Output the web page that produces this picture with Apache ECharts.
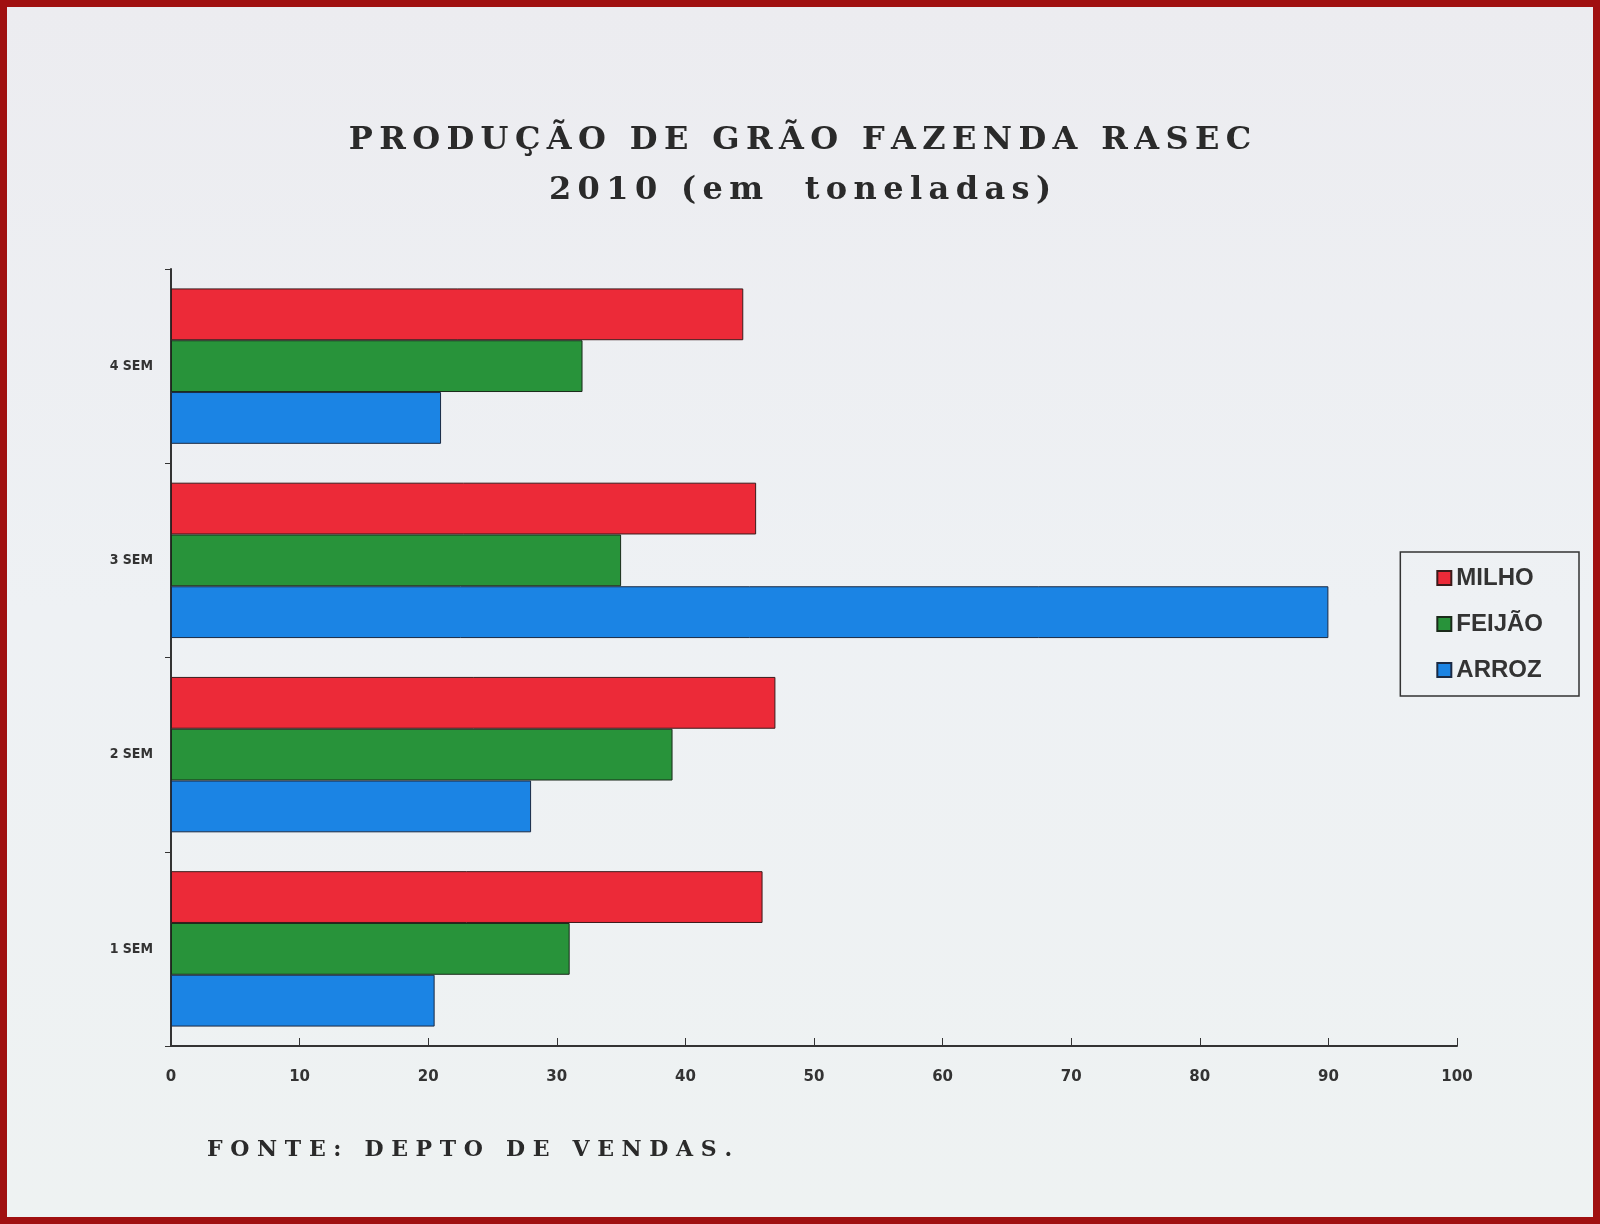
<!DOCTYPE html>
<html>
<head>
<meta charset="utf-8">
<script src="https://cdn.jsdelivr.net/npm/echarts@6/dist/echarts.min.js"></script>
<style>
  html, body { margin: 0; padding: 0; }
  #main { width: 1600px; height: 1224px; box-sizing: border-box; border: 7px solid #a01010;
    background: linear-gradient(180deg, #ececf0 0%, #eef1f4 50%, #eef2f2 100%); }
</style>
</head>
<body>
<div id="main"></div>
<script>
// Data
const categories = ["1 SEM", "2 SEM", "3 SEM", "4 SEM"];
const milho = [46, 47, 45.5, 44.5];
const feijao = [31, 39, 35, 32];
const arroz = [20.5, 28, 90, 21];
const xTicks = [0, 10, 20, 30, 40, 50, 60, 70, 80, 90, 100];

// spread letters like the original's wide title
const spread = (s) => s.split("").join("\u2009");

const chart = echarts.init(document.getElementById("main"));

const barBase = {
  type: "bar",
  barGap: "0%",
  barCategoryGap: "20%",
};

const option = {
  animation: false,
  title: {
    text: spread("PRODUÇÃO DE GRÃO FAZENDA RASEC") + "\n" + spread("2010 (em  toneladas)"),
    left: "center",
    top: 104,
    textStyle: {
      fontFamily: "DejaVu Serif",
      fontWeight: "bold",
      fontSize: 32,
      lineHeight: 50,
      color: "#2a2a2a",
    },
  },
  graphic: [{
    type: "text",
    left: 200,
    top: 1132,
    style: {
      text: "F O N T E :   D E P T O   D E   V E N D A S .",
      font: "bold 22px 'DejaVu Serif'",
      fill: "#2a2a2a",
    },
  }],
  legend: {
    orient: "vertical",
    right: 14,
    top: 545,
    padding: [14, 36, 14, 36],
    itemGap: 22,
    itemWidth: 14,
    itemHeight: 14,
    icon: "rect",
    borderColor: "#333",
    borderWidth: 1.5,
    data: ["MILHO", "FEIJÃO", "ARROZ"],
    textStyle: { fontFamily: "Liberation Sans", fontWeight: "bold", fontSize: 24, color: "#333" },
  },
  grid: { left: 164, right: 136, top: 262, bottom: 171 },
  xAxis: {
    type: "value",
    min: 0,
    max: 100,
    interval: 10,
    splitLine: { show: false },
    axisLine: { show: true, lineStyle: { color: "#333", width: 2 } },
    axisTick: { show: true, inside: true, length: 8, lineStyle: { color: "#333" } },
    axisLabel: {
      margin: 24,
      fontFamily: "DejaVu Sans",
      fontWeight: "bold",
      fontSize: 15,
      color: "#333",
      formatter: (v) => (xTicks.includes(v) ? String(v) : ""),
    },
  },
  yAxis: {
    type: "category",
    data: categories,
    axisLine: { show: true, lineStyle: { color: "#333", width: 2 } },
    axisTick: { show: true, length: 6, lineStyle: { color: "#333" } },
    axisLabel: {
      margin: 18,
      fontFamily: "DejaVu Sans Condensed",
      fontWeight: "bold",
      fontSize: 14,
      color: "#333",
    },
  },
  series: [
    { ...barBase, name: "MILHO", data: milho, itemStyle: { color: "#ec2a38", borderColor: "#3a1a1a", borderWidth: 1 } },
    { ...barBase, name: "FEIJÃO", data: feijao, itemStyle: { color: "#28933a", borderColor: "#1a2a1a", borderWidth: 1 } },
    { ...barBase, name: "ARROZ", data: arroz, itemStyle: { color: "#1b84e4", borderColor: "#1a2a44", borderWidth: 1 } },
  ],
};

chart.setOption(option);
</script>
</body>
</html>
